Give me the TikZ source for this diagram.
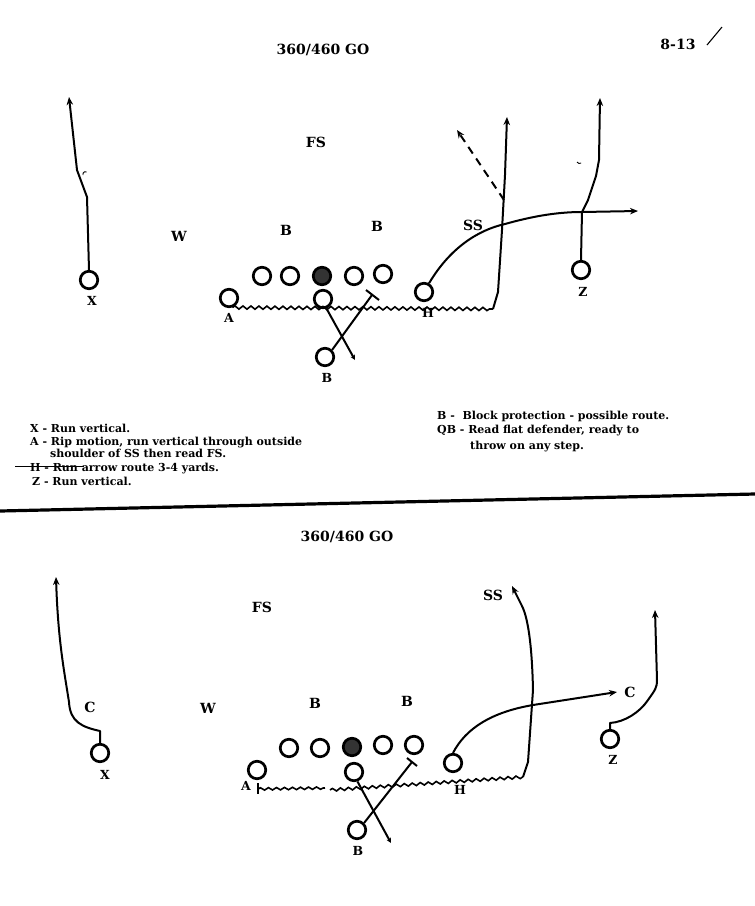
\documentclass[tikz,border=0pt]{standalone}
\usepackage{fontspec}
\setmainfont{DejaVu Serif}
\usetikzlibrary{decorations.pathmorphing,arrows.meta}
\begin{document}
\begin{tikzpicture}[x=1pt,y=-1pt,
  player/.style={circle,draw,line width=2.7pt,minimum size=17.5pt,inner sep=0pt},
  ctr/.style={player,fill=black!80},
  dlbl/.style={font=\bfseries\fontsize{14}{14}\selectfont,inner sep=0pt},
  plbl/.style={font=\bfseries\fontsize{12.5}{12}\selectfont,inner sep=0pt},
  note/.style={font=\bfseries\fontsize{11}{12}\selectfont,anchor=base west,inner sep=0pt},
  route/.style={line width=2pt,line join=round},
  arr/.style={route,-{Stealth[length=8pt,width=6.5pt]}},
  tip/.style={route,-{Stealth[length=5pt,width=5pt]}},
  motion/.style={line width=1.6pt,decorate,decoration={snake,amplitude=1.6pt,segment length=8pt}},
]
\useasboundingbox (0,0) rectangle (755,906);

% ================= TOP DIAGRAM =================
\node[dlbl] (t1) at (323,50) {360/460 GO};
\node[dlbl] (pg) at (678,44) {8-13};
\coordinate (sla) at (707,45);
\coordinate (slb) at (722,27);
\draw[line width=1.1pt] (sla) -- (slb);

\node[dlbl] (fs1) at (316,142) {FS};
\node[dlbl] (w1) at (179,236) {W};
\node[dlbl] (b1) at (286,230) {B};
\node[dlbl] (b2) at (377,226) {B};
\node[dlbl] (ss1) at (473,225) {SS};

\node[player] (l1) at (262,276) {};
\node[player] (l2) at (290,276) {};
\node[ctr]    (l3) at (322,276) {};
\node[player] (l4) at (354,276) {};
\node[player] (l5) at (383,274) {};
\node[player] (qb1) at (323,299) {};
\node[player] (a1) at (229,298) {};
\node[player] (h1) at (424,292) {};
\node[player] (x1) at (89,280) {};
\node[player] (z1) at (581,270) {};
\node[player] (rb1) at (325,357) {};

\node[plbl] (a1l) at (229,318) {A};
\node[plbl] (h1l) at (428,313) {H};
\node[plbl] (x1l) at (92,301) {X};
\node[plbl] (z1l) at (583,292) {Z};
\node[plbl] (rb1l) at (327,378) {B};

% X route
\draw[arr] (x1.north) -- (87,197) -- (77,170) -- (69,97);
\draw[line width=0.9pt] (83,175) arc (160:300:2.5);
% A motion and vertical
\coordinate (am1) at (493,309);
\draw[motion] (a1.-70) -- (am1);
\draw[arr] (am1) -- (498,292) -- (502,230) -- (505,175) -- (507,117);
\coordinate (ds1) at (504,200);
\coordinate (de1) at (457,130);
\draw[route,dash pattern=on 8pt off 6pt,-{Stealth[length=8pt,width=6.5pt]}] (ds1) -- (de1);
% H route
\draw[arr] (h1.60) .. controls (450,248) and (478,230) .. (505,224)
           .. controls (530,217) and (555,212) .. (582,212) -- (638,211);
% Z route
\draw[arr] (z1.north) -- (582,212) -- (588,200) -- (596,176) -- (599,160) -- (600,98);
\draw[line width=0.9pt] (577,162) arc (150:60:3);
% B block
\coordinate (rbe1) at (372,295);
\coordinate (rbt1) at (366,290);
\coordinate (rbu1) at (379,300);
\draw[route] (rb1.north east) -- (rbe1);
\draw[route] (rbt1) -- (rbu1);
% QB drop
\coordinate (qbe1) at (355,360);
\draw[tip] (qb1.-70) -- (qbe1);

% notes
\node[note] (n1) at (30,432) {X - Run vertical.};
\node[note] (n2) at (30,445) {A - Rip motion, run vertical through outside};
\node[note] (n3) at (50,457) {shoulder of SS then read FS.};
\node[note] (n4) at (30,471) {H - Run arrow route 3-4 yards.};
\node[note] (n5) at (32,485) {Z - Run vertical.};
\coordinate (st1) at (15,466);
\coordinate (st2) at (84,466);
\draw[line width=1pt] (st1) -- (st2);
\node[note] (n6) at (437,419) {B -\ \ Block protection - possible route.};
\node[note] (n7) at (437,433) {QB - Read flat defender, ready to};
\node[note] (n8) at (470,449) {throw on any step.};

% separator
\coordinate (sep1) at (0,511);
\coordinate (sep2) at (755,494);
\draw[line width=3.2pt] (sep1) -- (sep2);

% ================= BOTTOM DIAGRAM =================
\node[dlbl] (t2) at (347,537) {360/460 GO};
\node[dlbl] (fs2) at (262,607) {FS};
\node[dlbl] (c1) at (90,707) {C};
\node[dlbl] (w2) at (208,708) {W};
\node[dlbl] (b3) at (315,703) {B};
\node[dlbl] (b4) at (407,701) {B};
\node[dlbl] (ss2) at (493,595) {SS};
\node[dlbl] (c2) at (630,692) {C};

\node[player] (m1) at (289,748) {};
\node[player] (m2) at (320,748) {};
\node[ctr]    (m3) at (352,747) {};
\node[player] (m4) at (383,745) {};
\node[player] (m5) at (414,745) {};
\node[player] (qb2) at (354,772) {};
\node[player] (a2) at (257,770) {};
\node[player] (h2) at (453,763) {};
\node[player] (x2) at (100,753) {};
\node[player] (z2) at (610,739) {};
\node[player] (rb2) at (357,830) {};

\node[plbl] (a2l) at (246,786) {A};
\node[plbl] (h2l) at (460,790) {H};
\node[plbl] (x2l) at (105,775) {X};
\node[plbl] (z2l) at (613,760) {Z};
\node[plbl] (rb2l) at (358,851) {B};

% X route
\draw[arr] (x2.north) -- (100,731) .. controls (82,727) and (70,722) .. (69,702)
           .. controls (64,670) and (58,640) .. (56,577);
% A motion and vertical
\coordinate (mt0) at (258,783);
\coordinate (mt1) at (258,794);
\coordinate (mg1) at (258,789);
\coordinate (mg2) at (325,788);
\coordinate (mg3) at (330,790);
\coordinate (am2) at (523,777);
\draw[line width=1.2pt] (mt0) -- (mt1);
\draw[motion,decoration={amplitude=1.2pt}] (mg1) -- (mg2);
\draw[motion,decoration={amplitude=1.4pt}] (mg3) -- (am2);
\draw[arr] (am2) -- (528,762) -- (533,690) .. controls (532,645) and (528,618) .. (522,606) -- (512,586);
% H route
\draw[arr] (h2.north) .. controls (466,728) and (492,712) .. (533,705) -- (617,692);
% Z route
\draw[arr] (z2.north) -- (610,723) .. controls (625,722) and (640,712) .. (648,700)
           .. controls (655,690) and (657,688) .. (657,680) -- (655,610);
% B block
\coordinate (rbe2) at (412,762);
\coordinate (rbt2) at (407,758);
\coordinate (rbu2) at (417,766);
\draw[route] (rb2.north east) -- (rbe2);
\draw[route] (rbt2) -- (rbu2);
% QB drop
\coordinate (qbe2) at (391,843);
\draw[tip] (qb2.-70) -- (qbe2);
\end{tikzpicture}
\end{document}
